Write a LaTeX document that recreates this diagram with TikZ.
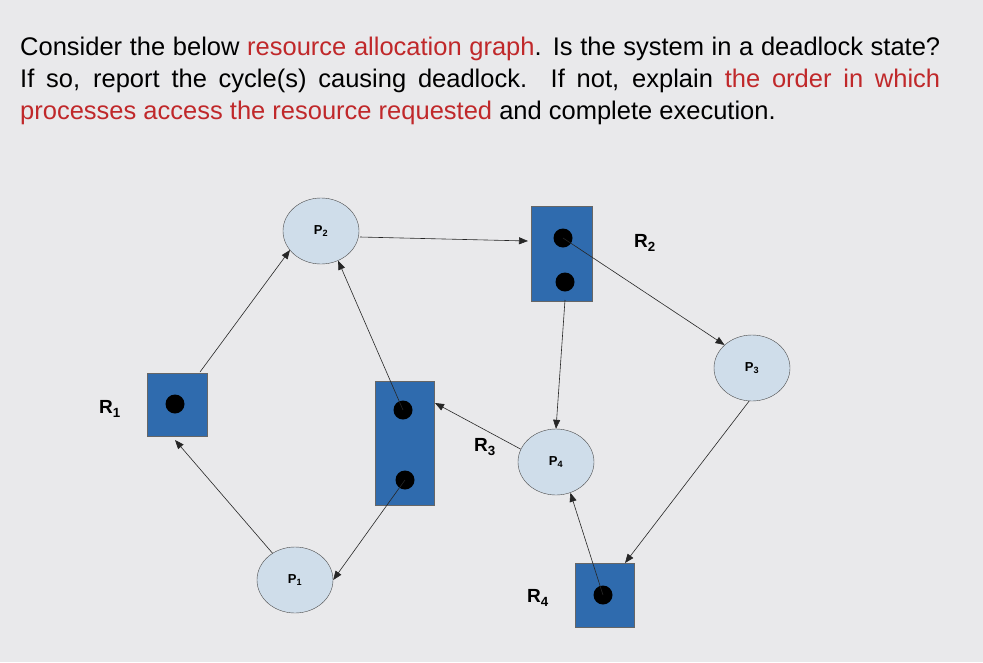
\documentclass[tikz,border=0pt]{standalone}
\usepackage{fontspec}
\setmainfont{Liberation Sans}
\usetikzlibrary{arrows.meta,shapes.geometric}
\definecolor{bg}{HTML}{E9E9EB}
\definecolor{res}{HTML}{2F6BAE}
\definecolor{proc}{HTML}{CFDDEA}
\definecolor{hl}{HTML}{C0282A}
\begin{document}
\begin{tikzpicture}[x=1pt,y=-1pt,
  proc/.style={draw=black!70,fill=proc,ellipse,minimum width=76pt,minimum height=66pt,font=\bfseries\fontsize{13}{15}\selectfont},
  resbox/.style={draw=black!60,fill=res,inner sep=0pt},
  dot/.style={circle,fill=black,inner sep=0pt,minimum size=19pt},
  edge/.style={-{Triangle[length=9pt,width=7pt]},black!85,line width=0.6pt},
  lbl/.style={font=\bfseries\fontsize{19}{22}\selectfont},
  title/.style={anchor=base west,font=\fontsize{25.5}{30}\selectfont,inner sep=0pt}]
\useasboundingbox (0,0) rectangle (983,662);
\fill[bg] (0,0) rectangle (983,662);
\node[title] (t1) at (20,55) {\makebox[920pt][s]{Consider the below \textcolor{hl}{resource allocation graph}. Is the system in a deadlock state?}};
\node[title] (t2) at (20,87) {\makebox[920pt][s]{If so, report the cycle(s) causing deadlock. If not, explain \textcolor{hl}{the order in which}}};
\node[title] (t3) at (20,119) {\textcolor{hl}{processes access the resource requested} and complete execution.};
% resources
\node[resbox,minimum width=61pt,minimum height=95pt] (R2) at (562,254) {};
\node[resbox,minimum width=60pt,minimum height=63pt] (R1) at (177,405) {};
\node[resbox,minimum width=59pt,minimum height=124pt] (R3) at (405,443) {};
\node[resbox,minimum width=59pt,minimum height=64pt] (R4) at (605,595) {};
\node[dot] (d2a) at (563,238) {};
\node[dot] (d2b) at (565,282) {};
\node[dot] (d1) at (175,404) {};
\node[dot] (d3a) at (403,410) {};
\node[dot] (d3b) at (405,480) {};
\node[dot] (d4) at (603,595) {};
% processes
\node[proc] (P2) at (321,231) {P\textsubscript{2}};
\node[proc] (P3) at (752,368) {P\textsubscript{3}};
\node[proc] (P4) at (556,462) {P\textsubscript{4}};
\node[proc] (P1) at (295,580) {P\textsubscript{1}};
% labels
\node[lbl] (l1) at (110,409) {R\textsubscript{1}};
\node[lbl] (l2) at (645,243) {R\textsubscript{2}};
\node[lbl] (l3) at (485,447) {R\textsubscript{3}};
\node[lbl] (l4) at (538,598) {R\textsubscript{4}};
% edges
\coordinate (a1) at (200,372); \coordinate (a1e) at (290,250);
\draw[edge] (a1) -- (a1e);
\coordinate (b1) at (360,237); \coordinate (b1e) at (528,241);
\draw[edge] (b1) -- (b1e);
\draw[edge] (d2a.center) -- (P3.140);
\coordinate (c2) at (565,300);
\draw[edge] (c2) -- (P4.north);
\coordinate (e3) at (435,403);
\draw[edge] (P4.160) -- (e3);
\draw[edge] (d3a.center) -- (P2.-60);
\draw[edge] (d3b.center) -- (P1.east);
\coordinate (r1e) at (175,440);
\draw[edge] (P1.130) -- (r1e);
\coordinate (r4e) at (625,563);
\draw[edge] (P3.-95) -- (r4e);
\draw[edge] (d4.center) -- (P4.-65);
\end{tikzpicture}
\end{document}
